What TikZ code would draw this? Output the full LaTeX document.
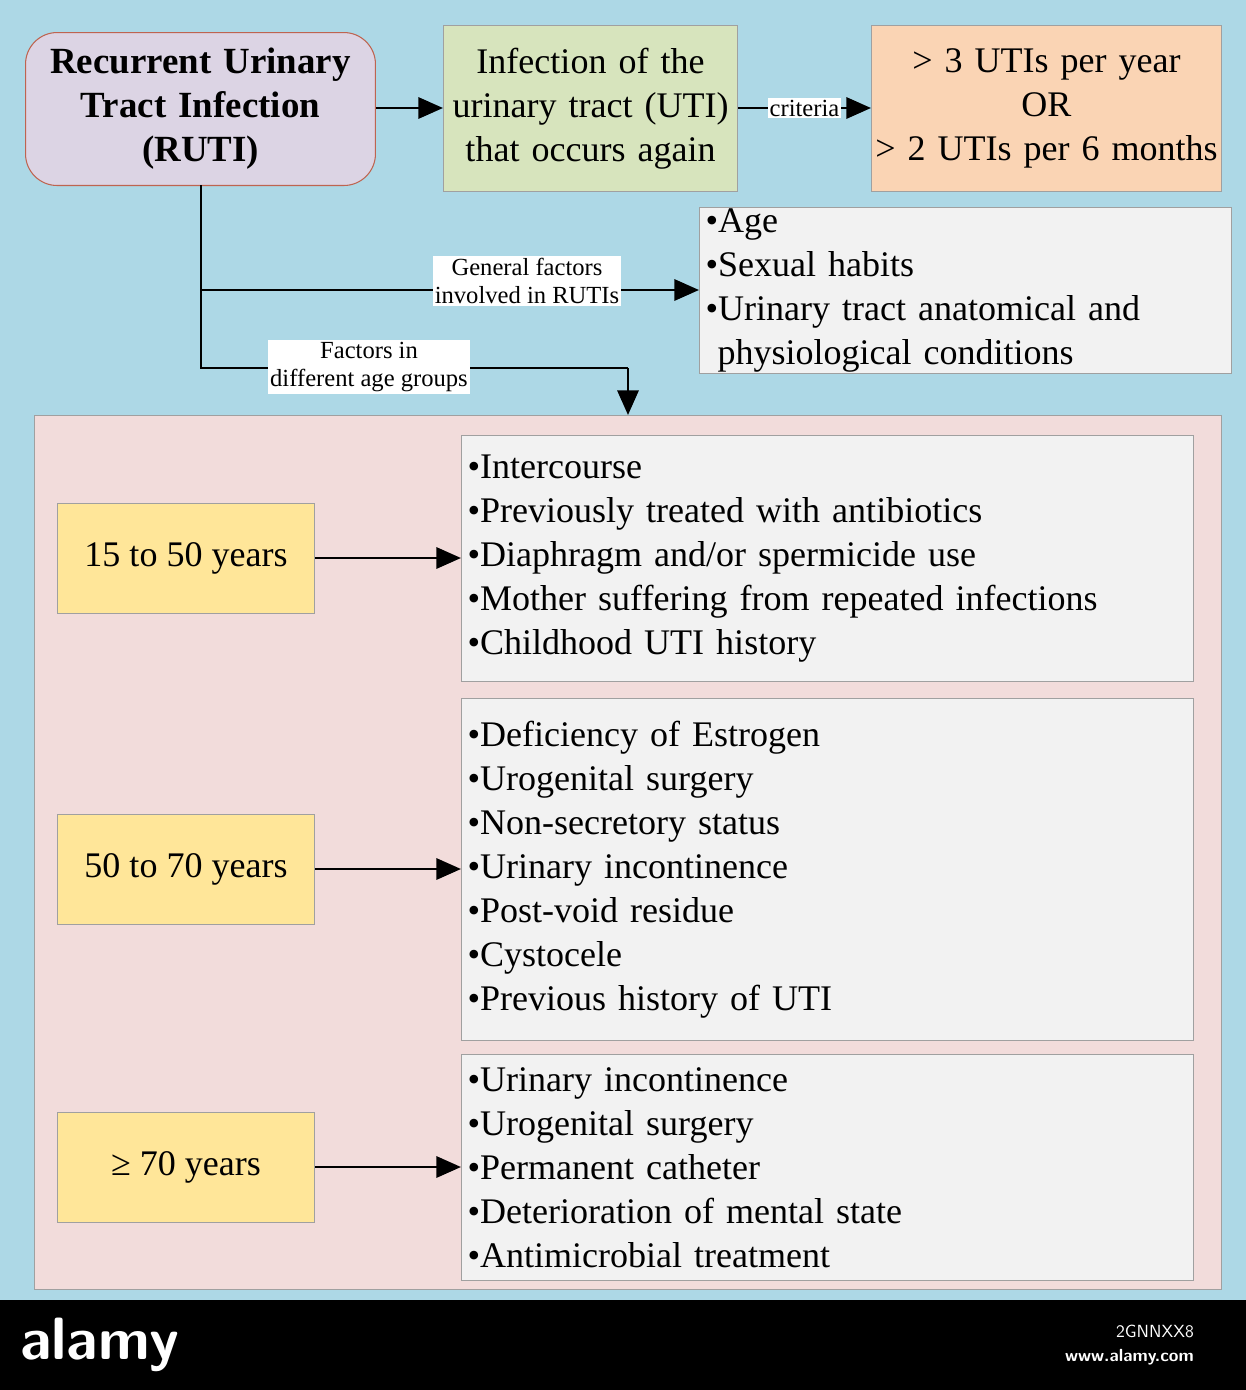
\documentclass[tikz,border=0pt]{standalone}
\usepackage{fontspec}
\setmainfont{Liberation Serif}
\usetikzlibrary{arrows.meta}
\definecolor{bgblue}{HTML}{ADD8E6}
\definecolor{lav}{HTML}{DCD4E4}
\definecolor{grn}{HTML}{D7E4BD}
\definecolor{pch}{HTML}{FAD4B4}
\definecolor{gry}{HTML}{F2F2F2}
\definecolor{pnk}{HTML}{F2DCDB}
\definecolor{yel}{HTML}{FFE699}
\definecolor{bdr}{HTML}{A0A0A0}
\begin{document}
\begin{tikzpicture}[x=0.02cm,y=-0.02cm,
 box/.style={draw=bdr,line width=0.6pt,inner sep=0pt,anchor=north west,font=\fontsize{20.5}{22}\selectfont},
 lst/.style={box,fill=gry,align=left,inner xsep=3pt,font=\fontsize{20.5}{25}\selectfont},
 arr/.style={line width=1.6pt,-{Triangle[length=14pt,width=12pt]}},
 lbl/.style={fill=white,inner sep=1pt,font=\fontsize{14}{16}\selectfont,align=center}]
\useasboundingbox (0,0) rectangle (1246,1390);
\fill[bgblue] (0,0) rectangle (1246,1300);
\fill[black] (0,1300) rectangle (1246,1390);
\node[white,font=\fontsize{34}{36}\selectfont\bfseries\sffamily] (wm) at (100,1345) {alamy};
\node[white,font=\fontsize{10}{12}\selectfont\sffamily,align=right,anchor=east] (wm2) at (1200,1345) {2GNNXX8\\[2pt]\bfseries www.alamy.com};
\node[box,draw={rgb,255:red,190;green,100;blue,80},fill=lav,rounded corners=18pt,text width=7cm,align=center,minimum height=3.06cm,minimum width=7cm,font=\fontsize{21}{22}\selectfont\bfseries] (ruti) at (25,32) {Recurrent Urinary\\[3pt]Tract Infection\\[3pt](RUTI)};
\node[box,fill=grn,minimum width=5.88cm,text width=5.88cm,minimum height=3.32cm,align=center] (uti) at (443,25) {Infection of the\\[3pt]urinary tract (UTI)\\[3pt]that occurs again};
\node[box,fill=pch,minimum width=7cm,text width=7cm,minimum height=3.32cm,align=center] (crit) at (871,25) {\mbox{> 3 UTIs per year}\\[3pt]OR\\[3pt]\mbox{> 2 UTIs per 6 months}};
\draw[arr] (ruti.east|-0,108) -- (uti.west|-0,108);
\draw[arr] (uti.east|-0,108) -- node[lbl] (cl) {criteria} (crit.west|-0,108);
\node[lst,minimum width=10.64cm,text width=10.4cm,minimum height=3.32cm] (gen) at (699,207) {\textbullet Age\\\textbullet Sexual habits\\\textbullet Urinary tract anatomical and\\\ physiological conditions};
\node[box,fill=pnk,minimum width=23.74cm,minimum height=17.48cm] (pink) at (34,415) {};
\coordinate (j1) at (201,290);
\coordinate (j2) at (201,368);
\coordinate (j3) at (628,368);
\draw[line width=1.6pt] (201,185) -- (j2) -- (j3);
\draw[arr] (j1) -- (gen.west|-j1);
\draw[arr] (j3) -- (j3|-pink.north);
\node[lbl] (gl) at (527,281) {General factors\\involved in RUTIs};
\node[lbl] (fl) at (369,367) {Factors in\\different age groups};
\tikzset{age/.style={box,fill=yel,minimum width=5.14cm,minimum height=2.2cm}}
\node[age] (a1) at (57,503) {15 to 50 years};
\node[age] (a2) at (57,814) {50 to 70 years};
\node[age] (a3) at (57,1112) {≥ 70 years};
\tikzset{lb/.style={lst,minimum width=14.64cm,text width=14.4cm}}
\node[lb,minimum height=4.92cm] (l1) at (461,435) {\textbullet Intercourse\\\textbullet Previously treated with antibiotics\\\textbullet Diaphragm and/or spermicide use\\\textbullet Mother suffering from repeated infections\\\textbullet Childhood UTI history};
\node[lb,minimum height=6.84cm] (l2) at (461,698) {\textbullet Deficiency of Estrogen\\\textbullet Urogenital surgery\\\textbullet Non-secretory status\\\textbullet Urinary incontinence\\\textbullet Post-void residue\\\textbullet Cystocele\\\textbullet Previous history of UTI};
\node[lb,minimum height=4.52cm] (l3) at (461,1054) {\textbullet Urinary incontinence\\\textbullet Urogenital surgery\\\textbullet Permanent catheter\\\textbullet Deterioration of mental state\\\textbullet Antimicrobial treatment};
\draw[arr] (a1.east|-0,558) -- (l1.west|-0,558);
\draw[arr] (a2.east|-0,869) -- (l2.west|-0,869);
\draw[arr] (a3.east|-0,1167) -- (l3.west|-0,1167);
\end{tikzpicture}
\end{document}
